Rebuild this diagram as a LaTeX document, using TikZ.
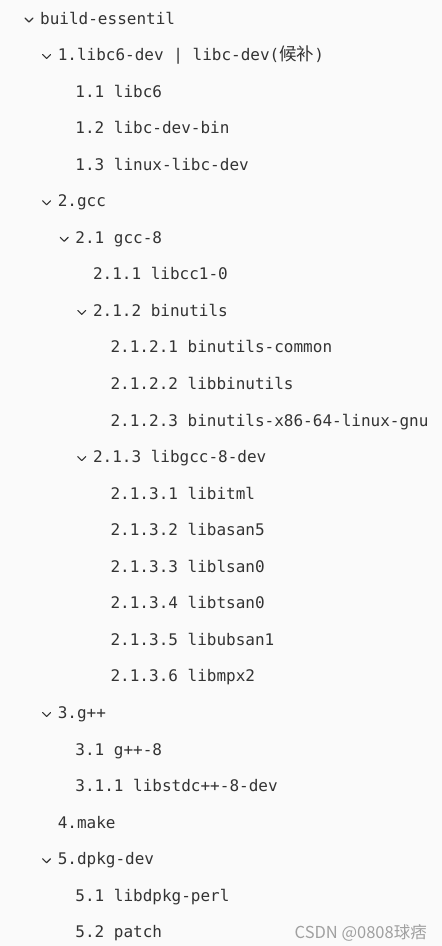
\documentclass[tikz,border=0pt]{standalone}
\usepackage{fontspec}
\setmonofont{DejaVu Sans Mono}
\newfontfamily\cjk{Noto Sans CJK SC}
\definecolor{bg}{HTML}{FAFAFA}
\definecolor{txt}{HTML}{333333}
\definecolor{wm}{HTML}{A0A0A0}
\tikzset{
  row/.style={anchor=base west, inner sep=0pt, text=txt, font=\fontsize{16}{16}\selectfont\ttfamily},
  chev/.style={draw=txt, line width=1.1pt, line cap=round, line join=round}
}
\newcommand\treerow[4]{%
  \node[row] (r#1) at ({40+17.6*#2}, {-(24+36.55*#1)}) {#4};
  \ifnum#3=1 \draw[chev] ([shift={(-15,6)}]r#1.base west) -- ([shift={(-11,2)}]r#1.base west) -- ([shift={(-7,6)}]r#1.base west);\fi
}
\begin{document}
\begin{tikzpicture}[x=1pt,y=1pt]
\fill[bg] (0,0) rectangle (442,-946);
\useasboundingbox (0,0) rectangle (442,-946);
\treerow{0}{0}{1}{build-essentil}
\treerow{1}{1}{1}{1.libc6-dev | libc-dev({\cjk\fontsize{17.5}{17.5}\selectfont 候补})}
\treerow{2}{2}{0}{1.1 libc6}
\treerow{3}{2}{0}{1.2 libc-dev-bin}
\treerow{4}{2}{0}{1.3 linux-libc-dev}
\treerow{5}{1}{1}{2.gcc}
\treerow{6}{2}{1}{2.1 gcc-8}
\treerow{7}{3}{0}{2.1.1 libcc1-0}
\treerow{8}{3}{1}{2.1.2 binutils}
\treerow{9}{4}{0}{2.1.2.1 binutils-common}
\treerow{10}{4}{0}{2.1.2.2 libbinutils}
\treerow{11}{4}{0}{2.1.2.3 binutils-x86-64-linux-gnu}
\treerow{12}{3}{1}{2.1.3 libgcc-8-dev}
\treerow{13}{4}{0}{2.1.3.1 libitml}
\treerow{14}{4}{0}{2.1.3.2 libasan5}
\treerow{15}{4}{0}{2.1.3.3 liblsan0}
\treerow{16}{4}{0}{2.1.3.4 libtsan0}
\treerow{17}{4}{0}{2.1.3.5 libubsan1}
\treerow{18}{4}{0}{2.1.3.6 libmpx2}
\treerow{19}{1}{1}{3.g++}
\treerow{20}{2}{0}{3.1 g++-8}
\treerow{21}{2}{0}{3.1.1 libstdc++-8-dev}
\treerow{22}{1}{0}{4.make}
\treerow{23}{1}{1}{5.dpkg-dev}
\treerow{24}{2}{0}{5.1 libdpkg-perl}
\treerow{25}{2}{0}{5.2 patch}
\node[anchor=base east, inner sep=0pt, text=wm, font=\cjk\fontsize{16.5}{16.5}\selectfont] (wm) at (427,-938) {CSDN @0808球痞};
\end{tikzpicture}
\end{document}
